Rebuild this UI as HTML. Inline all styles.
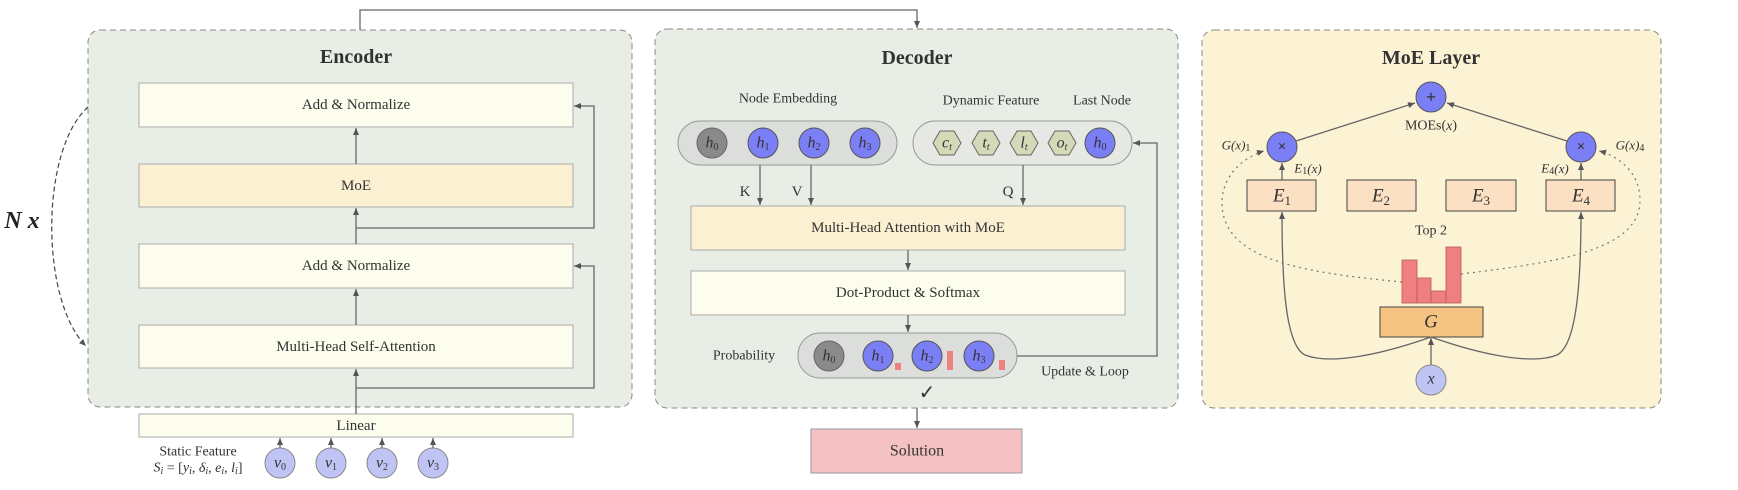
<!DOCTYPE html>
<html><head><meta charset="utf-8"><style>
html,body{margin:0;padding:0;background:#fff;}
svg{display:block;}
text{font-family:"Liberation Serif",serif;fill:#333;}
.t{font-size:15px;text-anchor:middle;dominant-baseline:central;}
.ttl{font-size:20px;font-weight:bold;text-anchor:middle;dominant-baseline:central;}
.m{font-style:italic;font-size:16px;text-anchor:middle;dominant-baseline:central;}
.sub{font-size:10px;}
.ln{stroke:#666;stroke-width:1.3;fill:none;}
</style></head><body>
<svg width="1738" height="490" viewBox="0 0 1738 490" xmlns="http://www.w3.org/2000/svg">
<defs>
<marker id="a" markerWidth="8" markerHeight="8" refX="7" refY="4" orient="auto" markerUnits="userSpaceOnUse"><path d="M0,1 L7,4 L0,7 z" fill="#555"/></marker>
</defs>
<!-- panels -->
<rect x="88" y="30" width="544" height="377" rx="12" fill="#e8eee6" stroke="#888" stroke-dasharray="6,4"/>
<rect x="655" y="29" width="523" height="379" rx="12" fill="#e8eee6" stroke="#888" stroke-dasharray="6,4"/>
<rect x="1202" y="30" width="459" height="378" rx="12" fill="#fcf2d4" stroke="#888" stroke-dasharray="6,4"/>
<!-- top link -->
<path class="ln" d="M360,30 V10 H917 V28" marker-end="url(#a)"/>
<!-- ENCODER -->
<text class="ttl" x="356" y="57">Encoder</text>
<rect x="139" y="83" width="434" height="44" fill="#fdfdee" stroke="#aaa"/>
<text class="t" x="356" y="105">Add &amp; Normalize</text>
<rect x="139" y="164" width="434" height="43" fill="#fcf0d2" stroke="#aaa"/>
<text class="t" x="356" y="186">MoE</text>
<rect x="139" y="244" width="434" height="44" fill="#fdfdee" stroke="#aaa"/>
<text class="t" x="356" y="266">Add &amp; Normalize</text>
<rect x="139" y="325" width="434" height="43" fill="#fdfdee" stroke="#aaa"/>
<text class="t" x="356" y="347">Multi-Head Self-Attention</text>
<rect x="139" y="414" width="434" height="23" fill="#fdfdee" stroke="#aaa"/>
<text class="t" x="356" y="426">Linear</text>
<path class="ln" d="M356,164 V128" marker-end="url(#a)"/>
<path class="ln" d="M356,244 V208" marker-end="url(#a)"/>
<path class="ln" d="M356,325 V289" marker-end="url(#a)"/>
<path class="ln" d="M356,414 V369" marker-end="url(#a)"/>
<path class="ln" d="M356,228 H594 V106 H574" marker-end="url(#a)"/>
<path class="ln" d="M356,388 H594 V266 H574" marker-end="url(#a)"/>
<text x="22" y="221" style="font-size:24px;font-weight:bold;font-style:italic;text-anchor:middle;dominant-baseline:central;fill:#222">N x</text>
<path d="M88,107 C40,150 40,300 86,346" fill="none" stroke="#444" stroke-dasharray="5,3" stroke-width="1.2" marker-end="url(#a)"/>
<text class="t" x="198" y="452" style="font-size:14px">Static Feature</text>
<text class="t" x="198" y="468" style="font-size:14px;font-style:italic">S<tspan class="sub" dy="3">i</tspan><tspan dy="-3" font-style="normal"> = [</tspan>y<tspan class="sub" dy="3">i</tspan><tspan dy="-3">, δ</tspan><tspan class="sub" dy="3">i</tspan><tspan dy="-3">, e</tspan><tspan class="sub" dy="3">i</tspan><tspan dy="-3">, l</tspan><tspan class="sub" dy="3">i</tspan><tspan dy="-3" font-style="normal">]</tspan></text>
<g>
<circle cx="280" cy="463" r="15" fill="#c0c4f5" stroke="#888"/><text class="m" x="280" y="463">v<tspan class="sub" dy="4" font-style="normal">0</tspan></text>
<circle cx="331" cy="463" r="15" fill="#c0c4f5" stroke="#888"/><text class="m" x="331" y="463">v<tspan class="sub" dy="4" font-style="normal">1</tspan></text>
<circle cx="382" cy="463" r="15" fill="#c0c4f5" stroke="#888"/><text class="m" x="382" y="463">v<tspan class="sub" dy="4" font-style="normal">2</tspan></text>
<circle cx="433" cy="463" r="15" fill="#c0c4f5" stroke="#888"/><text class="m" x="433" y="463">v<tspan class="sub" dy="4" font-style="normal">3</tspan></text>
<path class="ln" d="M280,448 V438" marker-end="url(#a)"/>
<path class="ln" d="M331,448 V438" marker-end="url(#a)"/>
<path class="ln" d="M382,448 V438" marker-end="url(#a)"/>
<path class="ln" d="M433,448 V438" marker-end="url(#a)"/>
</g>
<!-- DECODER -->
<text class="ttl" x="917" y="58">Decoder</text>
<text class="t" x="788" y="99" style="font-size:14px">Node Embedding</text>
<text class="t" x="991" y="101" style="font-size:14px">Dynamic Feature</text>
<text class="t" x="1102" y="101" style="font-size:14px">Last Node</text>
<rect x="678" y="121" width="219" height="44" rx="22" fill="#dcdedb" stroke="#999"/>
<rect x="913" y="121" width="219" height="44" rx="22" fill="#e6e8e4" stroke="#999"/>
<circle cx="712" cy="143" r="15" fill="#8a8a8a" stroke="#666"/><text class="m" x="712" y="143">h<tspan class="sub" dy="4" font-style="normal">0</tspan></text>
<circle cx="763" cy="143" r="15" fill="#7b7ff5" stroke="#555"/><text class="m" x="763" y="143">h<tspan class="sub" dy="4" font-style="normal">1</tspan></text>
<circle cx="814" cy="143" r="15" fill="#7b7ff5" stroke="#555"/><text class="m" x="814" y="143">h<tspan class="sub" dy="4" font-style="normal">2</tspan></text>
<circle cx="865" cy="143" r="15" fill="#7b7ff5" stroke="#555"/><text class="m" x="865" y="143">h<tspan class="sub" dy="4" font-style="normal">3</tspan></text>
<g fill="#d5d9b8" stroke="#666">
<polygon points="933,143 940,131 954,131 961,143 954,155 940,155"/>
<polygon points="972,143 979,131 993,131 1000,143 993,155 979,155"/>
<polygon points="1010,143 1017,131 1031,131 1038,143 1031,155 1017,155"/>
<polygon points="1048,143 1055,131 1069,131 1076,143 1069,155 1055,155"/>
</g>
<text class="m" x="947" y="143">c<tspan class="sub" dy="4">t</tspan></text>
<text class="m" x="986" y="143">t<tspan class="sub" dy="4">t</tspan></text>
<text class="m" x="1024" y="143">l<tspan class="sub" dy="4">t</tspan></text>
<text class="m" x="1062" y="143">o<tspan class="sub" dy="4">t</tspan></text>
<circle cx="1100" cy="143" r="15" fill="#7b7ff5" stroke="#555"/><text class="m" x="1100" y="143">h<tspan class="sub" dy="4" font-style="normal">0</tspan></text>
<path class="ln" d="M760,165 V205" marker-end="url(#a)"/>
<path class="ln" d="M811,165 V205" marker-end="url(#a)"/>
<path class="ln" d="M1023,165 V205" marker-end="url(#a)"/>
<text class="t" x="745" y="192">K</text>
<text class="t" x="797" y="192">V</text>
<text class="t" x="1008" y="192">Q</text>
<rect x="691" y="206" width="434" height="44" fill="#fcf0d2" stroke="#aaa"/>
<text class="t" x="908" y="228">Multi-Head Attention with MoE</text>
<rect x="691" y="271" width="434" height="44" fill="#fdfdee" stroke="#aaa"/>
<text class="t" x="908" y="293">Dot-Product &amp; Softmax</text>
<path class="ln" d="M908,250 V270" marker-end="url(#a)"/>
<path class="ln" d="M908,315 V332" marker-end="url(#a)"/>
<text class="t" x="744" y="356" style="font-size:14px">Probability</text>
<rect x="798" y="333" width="219" height="45" rx="22" fill="#dcdedb" stroke="#999"/>
<circle cx="829" cy="356" r="15" fill="#8a8a8a" stroke="#666"/><text class="m" x="829" y="356">h<tspan class="sub" dy="4" font-style="normal">0</tspan></text>
<circle cx="878" cy="356" r="15" fill="#7b7ff5" stroke="#555"/><text class="m" x="878" y="356">h<tspan class="sub" dy="4" font-style="normal">1</tspan></text>
<circle cx="927" cy="356" r="15" fill="#7b7ff5" stroke="#555"/><text class="m" x="927" y="356">h<tspan class="sub" dy="4" font-style="normal">2</tspan></text>
<circle cx="979" cy="356" r="15" fill="#7b7ff5" stroke="#555"/><text class="m" x="979" y="356">h<tspan class="sub" dy="4" font-style="normal">3</tspan></text>
<rect x="895" y="363" width="6" height="7" fill="#f08080"/>
<rect x="947" y="351" width="6" height="19" fill="#f08080"/>
<rect x="999" y="360" width="6" height="10" fill="#f08080"/>
<path class="ln" d="M1017,356 H1157 V143 H1133" marker-end="url(#a)"/>
<text class="t" x="1085" y="372" style="font-size:14px">Update &amp; Loop</text>
<text x="927" y="393" style="font-size:20px;text-anchor:middle;dominant-baseline:central;fill:#333">✓</text>
<path class="ln" d="M917,408 V428" marker-end="url(#a)"/>
<rect x="811" y="429" width="211" height="44" fill="#f4c2c2" stroke="#999"/>
<text class="t" x="917" y="451" style="font-size:16px">Solution</text>
<!-- MOE -->
<text class="ttl" x="1431" y="58">MoE Layer</text>
<path class="ln" d="M1296,141 L1415,103" marker-end="url(#a)"/>
<path class="ln" d="M1567,141 L1447,103" marker-end="url(#a)"/>
<circle cx="1431" cy="97" r="15" fill="#7b7ff5" stroke="#555"/>
<text x="1431" y="97" style="font-size:18px;font-weight:bold;text-anchor:middle;dominant-baseline:central;fill:#333">+</text>
<text class="t" x="1431" y="126" style="font-size:14px">MOEs(<tspan font-style="italic">x</tspan>)</text>
<circle cx="1282" cy="147" r="15" fill="#7b7ff5" stroke="#555"/>
<text x="1282" y="147" style="font-size:15px;font-weight:bold;text-anchor:middle;dominant-baseline:central;fill:#333">×</text>
<circle cx="1581" cy="147" r="15" fill="#7b7ff5" stroke="#555"/>
<text x="1581" y="147" style="font-size:15px;font-weight:bold;text-anchor:middle;dominant-baseline:central;fill:#333">×</text>
<text x="1236" y="145" style="font-size:13px;font-style:italic;text-anchor:middle;dominant-baseline:central">G(x)<tspan class="sub" dy="3" font-style="normal">1</tspan></text>
<text x="1630" y="145" style="font-size:13px;font-style:italic;text-anchor:middle;dominant-baseline:central">G(x)<tspan class="sub" dy="3" font-style="normal">4</tspan></text>
<text x="1308" y="168" style="font-size:13px;font-style:italic;text-anchor:middle;dominant-baseline:central">E<tspan class="sub" dy="3" font-style="normal">1</tspan><tspan dy="-3">(x)</tspan></text>
<text x="1555" y="168" style="font-size:13px;font-style:italic;text-anchor:middle;dominant-baseline:central">E<tspan class="sub" dy="3" font-style="normal">4</tspan><tspan dy="-3">(x)</tspan></text>
<path class="ln" d="M1282,180 V163" marker-end="url(#a)"/>
<path class="ln" d="M1581,180 V163" marker-end="url(#a)"/>
<g fill="#fce0c4" stroke="#444">
<rect x="1247" y="180" width="69" height="31"/>
<rect x="1347" y="180" width="69" height="31"/>
<rect x="1446" y="180" width="70" height="31"/>
<rect x="1546" y="180" width="69" height="31"/>
</g>
<text class="m" x="1282" y="196" style="font-size:19px">E<tspan dy="4" font-size="13" font-style="normal">1</tspan></text>
<text class="m" x="1381" y="196" style="font-size:19px">E<tspan dy="4" font-size="13" font-style="normal">2</tspan></text>
<text class="m" x="1481" y="196" style="font-size:19px">E<tspan dy="4" font-size="13" font-style="normal">3</tspan></text>
<text class="m" x="1581" y="196" style="font-size:19px">E<tspan dy="4" font-size="13" font-style="normal">4</tspan></text>
<text class="t" x="1431" y="231" style="font-size:14px">Top 2</text>
<path d="M1402,282 C1300,272 1220,260 1222,200 C1224,170 1250,155 1264,151" fill="none" stroke="#777" stroke-dasharray="2,4" stroke-width="1.2" marker-end="url(#a)"/>
<path d="M1461,274 C1560,262 1640,250 1640,200 C1640,170 1615,155 1599,151" fill="none" stroke="#777" stroke-dasharray="2,4" stroke-width="1.2" marker-end="url(#a)"/>
<g fill="#f08080" stroke="#b05a5a" stroke-width="0.8">
<rect x="1402" y="260" width="15" height="43"/>
<rect x="1417" y="278" width="14" height="25"/>
<rect x="1431" y="291" width="15" height="12"/>
<rect x="1446" y="247" width="15" height="56"/>
</g>
<rect x="1380" y="307" width="103" height="30" fill="#f5c382" stroke="#444"/>
<text class="m" x="1431" y="322" style="font-size:19px">G</text>
<path class="ln" d="M1431,337 C1380,355 1330,365 1305,355 C1285,345 1282,280 1282,212" marker-end="url(#a)"/>
<path class="ln" d="M1431,337 C1482,355 1532,365 1557,355 C1577,345 1581,280 1581,212" marker-end="url(#a)"/>
<path class="ln" d="M1431,365 V338" marker-end="url(#a)"/>
<circle cx="1431" cy="380" r="15" fill="#c0c4f5" stroke="#888"/>
<text class="m" x="1431" y="379">x</text>
</svg>
</body></html>
